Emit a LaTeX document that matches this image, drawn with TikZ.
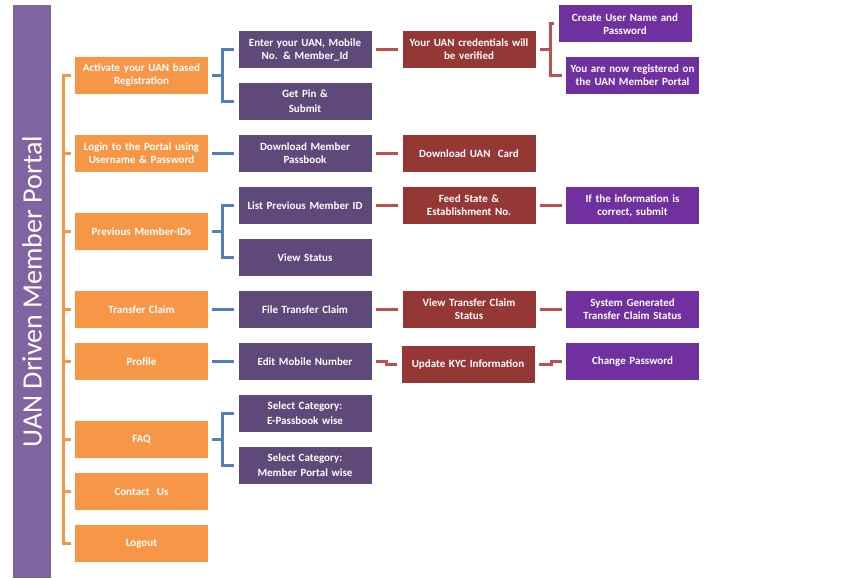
\documentclass[tikz,border=0pt]{standalone}
\usepackage{fontspec}
\setmainfont{Carlito}
\definecolor{tbar}{HTML}{8064A2}
\definecolor{ora}{HTML}{F79646}
\definecolor{dpur}{HTML}{5F497A}
\definecolor{dred}{HTML}{953735}
\definecolor{vio}{HTML}{7030A0}
\definecolor{bl}{HTML}{4F81BD}
\definecolor{rd}{HTML}{C0504D}
\begin{document}
\begin{tikzpicture}[x=1pt,y=-1pt,
 box/.style={minimum width=133pt,minimum height=37pt,inner sep=1pt,text=white,font=\bfseries\fontsize{11}{13}\selectfont,align=center,text width=131pt},
 ob/.style={box,fill=ora},
 pb/.style={box,fill=dpur},
 rb/.style={box,fill=dred},
 vb/.style={box,fill=vio},
 oc/.style={draw=ora,line width=3pt},
 bc/.style={draw=bl,line width=3pt},
 rc/.style={draw=rd,line width=3pt}]
\useasboundingbox (0,0) rectangle (848,578);
\node[fill=tbar,minimum width=38pt,minimum height=573pt,inner sep=0] (title) at (32,291.5) {};
\node[rotate=90,text=white,font=\fontsize{28}{30}\selectfont] at (title.center) {UAN Driven Member Portal};
% orange
\node[ob] (o1) at (141.5,75.5) {Activate your UAN based\\Registration};
\node[ob] (o2) at (141.5,153.5) {Login to the Portal using\\Username \& Password};
\node[ob] (o3) at (141.5,231.5) {Previous Member-IDs};
\node[ob] (o4) at (141.5,309.5) {Transfer Claim};
\node[ob] (o5) at (141.5,361.5) {Profile};
\node[ob] (o6) at (141.5,439.5) {FAQ};
\node[ob] (o7) at (141.5,491.5) {Contact\ \ Us};
\node[ob] (o8) at (141.5,543.5) {Logout};
% purple
\node[pb] (p1) at (305,49.5) {Enter your UAN, Mobile\\No. \& Member\_Id};
\node[pb] (p2) at (305,101.5) {Get Pin \&\\[2pt]Submit};
\node[pb] (p3) at (305,153.5) {Download Member\\Passbook};
\node[pb] (p4) at (305,205.5) {List Previous Member ID};
\node[pb] (p5) at (305,257.5) {View Status};
\node[pb] (p6) at (305,309.5) {File Transfer Claim};
\node[pb] (p7) at (305,361.5) {Edit Mobile Number};
\node[pb] (p8) at (305,413.5) {Select Category:\\[2pt]E-Passbook wise};
\node[pb] (p9) at (305,465.5) {Select Category:\\[2pt]Member Portal wise};
% red
\node[rb] (r1) at (469,49.5) {Your UAN credentials will\\be verified};
\node[rb] (r2) at (469,153.5) {Download UAN\ \ Card};
\node[rb] (r3) at (469,205.5) {Feed State \&\\Establishment No.};
\node[rb] (r4) at (469,309.5) {View Transfer Claim\\Status};
\node[rb] (r5) at (468,364.5) {Update KYC Information};
% violet
\node[vb] (v1) at (625,24) {Create User Name and\\Password};
\node[vb] (v2) at (632.5,75.5) {You are now registered on\\the UAN Member Portal};
\node[vb] (v3) at (632.5,205.5) {If the information is\\correct, submit};
\node[vb] (v4) at (632.5,309.5) {System Generated\\Transfer Claim Status};
\node[vb] (v5) at (632.5,361.5) {Change Password};
% orange bracket
\coordinate (ot) at (63,75.5);
\draw[oc] (71,75.5) -| (63,543.5) -- (71,543.5);
\foreach \n in {o2,o3,o4,o5,o6,o7} \draw[oc] (63,0 |- \n.west) -- ([xshift=-4pt]\n.west);
% blue
\draw[bc] ([xshift=4pt]o1.east) -- +(10,0);
\draw[bc] ([xshift=-4pt]p1.west) -| (222,101.5) -- ([xshift=-4pt]p2.west);
\draw[bc] ([xshift=4pt]o2.east) -- ([xshift=-4pt]p3.west);
\draw[bc] ([xshift=4pt]o3.east) -- +(10,0);
\draw[bc] ([xshift=-4pt]p4.west) -| (222,257.5) -- ([xshift=-4pt]p5.west);
\draw[bc] ([xshift=4pt]o4.east) -- ([xshift=-4pt]p6.west);
\draw[bc] ([xshift=4pt]o5.east) -- ([xshift=-4pt]p7.west);
\draw[bc] ([xshift=4pt]o6.east) -- +(10,0);
\draw[bc] ([xshift=-4pt]p8.west) -| (222,465.5) -- ([xshift=-4pt]p9.west);
% red connectors
\draw[rc] ([xshift=4pt]p1.east) -- ([xshift=-4pt]r1.west);
\draw[rc] ([xshift=4pt]r1.east) -- +(11,0);
\draw[rc] ([xshift=-4pt]v1.west) -| (550,75.5) -- ([xshift=-4pt]v2.west);
\draw[rc] ([xshift=4pt]p3.east) -- ([xshift=-4pt]r2.west);
\draw[rc] ([xshift=4pt]p4.east) -- ([xshift=-4pt]r3.west);
\draw[rc] ([xshift=4pt]r3.east) -- ([xshift=-4pt]v3.west);
\draw[rc] ([xshift=4pt]p6.east) -- ([xshift=-4pt]r4.west);
\draw[rc] ([xshift=4pt]r4.east) -- ([xshift=-4pt]v4.west);
\draw[rc] ([xshift=4pt]p7.east) -- (386,361.5) -- (386,364.5) -- ([xshift=-4pt]r5.west);
\draw[rc] ([xshift=4pt]r5.east) -- (551,364.5) -- (551,361.5) -- ([xshift=-4pt]v5.west);
\end{tikzpicture}
\end{document}
